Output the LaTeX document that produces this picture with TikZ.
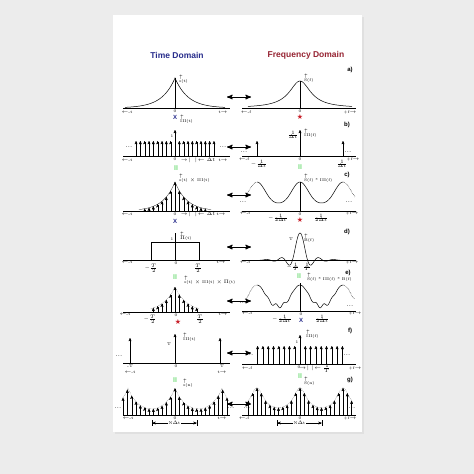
\documentclass[tikz,border=0pt]{standalone}
\usepackage{amsmath}
\usepackage{fontspec}
\setsansfont{Liberation Sans}
\newfontfamily\symfont{DejaVu Sans}
\usetikzlibrary{arrows,positioning}

\definecolor{timeblue}{RGB}{40,45,140}
\definecolor{freqred}{RGB}{150,35,50}
\definecolor{eqgreen}{RGB}{50,205,60}
\definecolor{starred}{RGB}{200,30,40}
\definecolor{backdrop}{RGB}{236,236,236}

\tikzset{
  lbl/.style={font=\fontsize{4}{4.5}\selectfont, inner sep=0pt},
  fnlbl/.style={lbl, align=left, anchor=south west},
  axisline/.style={line width=0.45pt},
  curve/.style={line width=0.5pt},
  spike/.style={->, line width=0.3pt},
  envelope/.style={line width=0.3pt, densely dotted},
  dots/.style={font=\fontsize{5}{5}\selectfont\bfseries, inner sep=0pt},
  tmark/.style={font=\sffamily\bfseries\fontsize{6}{6}\selectfont, text=timeblue, inner sep=0pt},
  fmark/.style={font=\symfont\fontsize{7}{7}\selectfont, text=starred, inner sep=0pt},
  eqmark/.style={font=\sffamily\fontsize{7}{7}\selectfont, text=eqgreen, inner sep=0pt},
  swap/.style={<->, line width=1pt},
  rowtag/.style={font=\sffamily\bfseries\fontsize{6}{6}\selectfont, inner sep=0pt},
  title/.style={font=\sffamily\bfseries\fontsize{8.5}{9}\selectfont}
}

\begin{document}
\begin{tikzpicture}[x=1pt,y=-1pt,>=stealth',
  declare function={
    lor(\u,\w)=1/(1+(\u/\w)*(\u/\w));
    pexp(\u)=exp(-abs(\u)/11)+exp(-abs(\u-47)/11)+exp(-abs(\u+47)/11)+exp(-abs(\u-94)/11)+exp(-abs(\u+94)/11);
    plor(\u)=lor(\u,8.3)+lor(\u-43,8.3)+lor(\u+43,8.3)+lor(\u-86,8.3)+lor(\u+86,8.3);
    hc(\u)=(1+cos(8.3721*\u))/2;
    wc(\u)=hc(\u)*(0.5+0.5*hc(\u));
    we(\u)=5+21*wc(\u)+2*cos(45*\u)*(1-hc(\u));
    snc(\u)=sin(24*\u)/(pi*\u/7.5);
  }]
\useasboundingbox (0,0) rectangle (474,474);
\fill[backdrop] (0,0) rectangle (474,474);
\fill[black!12] (115,17) rectangle (364,434);
\fill[white] (113,15) rectangle (362,432);

\node[title, text=timeblue] (ttitle) at (177,55) {Time Domain};
\node[title, text=freqred] (ftitle) at (306,55) {Frequency Domain};

% swap arrows between the two columns
\foreach \r/\yy in {a/97,b/147,c/195,d/247,e/301,f/353,g/404}{
  \coordinate (\r-swl) at (227,\yy);
  \coordinate (\r-swr) at (251,\yy);
  \draw[swap] (\r-swl) -- (\r-swr);
}

% ---- time domain ----
% a)
\begin{scope}[shift={(175,108)}]
  \draw[axisline] (-52,0) -- (55,0);
  \draw[curve] plot[domain=-50:50,samples=101] ({\x},{-30*exp(-abs(\x)/13)});
  \draw[curve] (0,0) -- (0,-30);
  \node[fnlbl] (ta-fn) at (4,-24) {$\uparrow$\\s(t)};
  \node[lbl] (ta-l) at (-48,4) {$\leftarrow$-t};
  \node[lbl] (ta-0) at (0,3.5) {0};
  \node[lbl] (ta-r) at (48,4) {t$\rightarrow$};
  \node[tmark] (ta-x) at (0,9) {X};
\end{scope}

% b)
\begin{scope}[shift={(175,156)}]
  \draw[axisline] (-52,0) -- (55,0);
  \foreach \k in {-9,...,-1,1,2,...,9}
    \draw[spike] ({\k*4.33},0) -- ({\k*4.33},-15);
  \draw[spike] (0,0) -- (0,-26);
  \node[lbl] (tb-one) at (-3,-20) {1};
  \node[fnlbl] (tb-fn) at (5,-32) {$\uparrow$\\III(t)};
  \node[dots] (tb-dl) at (-46,-9) {...};
  \node[dots] (tb-dr) at (48,-9) {...};
  \node[lbl] (tb-l) at (-48,4) {$\leftarrow$-t};
  \node[lbl] (tb-0) at (0,3.5) {0};
  \node[lbl] (tb-dt) at (23,4) {$\rightarrow\!|\;\;|\!\leftarrow\Delta t$};
  \node[lbl] (tb-r) at (48,4) {t$\rightarrow$};
  \node[eqmark] (tb-eq) at (1,12) {II};
\end{scope}

% c)
\begin{scope}[shift={(175,211)}]
  \draw[axisline] (-52,0) -- (55,0);
  \draw[line width=0.25pt] plot[domain=-36:36,samples=73] ({\x},{-29*exp(-abs(\x)/12)});
  \foreach \k in {-7,...,-1,1,2,...,7}
    \draw[spike] ({\k*4.33},0) -- ({\k*4.33},{-29*exp(-abs(\k*4.33)/12)});
  \draw[spike] (0,0) -- (0,-29);
  \node[fnlbl] (tc-fn) at (4,-28) {$\uparrow$\\s(t) $\times$ III(t)};
  \node[lbl] (tc-l) at (-48,3.5) {$\leftarrow$-t};
  \node[lbl] (tc-0) at (0,3.5) {0};
  \node[lbl] (tc-dt) at (23,3.5) {$\rightarrow\!|\;\;|\!\leftarrow\Delta t$};
  \node[lbl] (tc-r) at (46,3.5) {t$\rightarrow$};
  \node[tmark] (tc-x) at (0,10) {X};
\end{scope}

% d)
\begin{scope}[shift={(175,260)}]
  \draw[axisline] (-52,0) -- (55,0);
  \draw[curve] (-24,0) -- (-24,-18) -- (24,-18) -- (24,0);
  \draw[curve] (0,0) -- (0,-27);
  \node[lbl] (td-one) at (-3,-21) {1};
  \node[fnlbl] (td-fn) at (5,-19) {$\uparrow$\\$\Pi$(t)};
  \node[lbl] (td-l) at (-48,2) {$\leftarrow$-t};
  \node[lbl] (td-a) at (-24,8) {$-\frac{T}{2}$};
  \node[lbl] (td-0) at (1,3.5) {0};
  \node[lbl] (td-b) at (23,8) {$\frac{T}{2}$};
  \node[lbl] (td-r) at (46,2) {t$\rightarrow$};
\end{scope}

% e)
\begin{scope}[shift={(175,312)}]
  \node[eqmark] (te-eq) at (0,-35) {II};
  \node[fnlbl] (te-fn) at (9,-27) {$\uparrow$\\s(t) $\times$ III(t) $\times$ $\Pi$(t)};
  \draw[axisline] (-52,0) -- (55,0);
  \draw[envelope] plot[domain=-24:24,samples=49] ({\x},{-25*exp(-abs(\x)/12)});
  \foreach \k in {-5,...,-1,1,2,...,5}
    \draw[spike] ({\k*4.33},0) -- ({\k*4.33},{-25*exp(-abs(\k*4.33)/12)});
  \draw[spike] (0,0) -- (0,-25);
  \node[lbl] (te-l) at (-50,2) {$\leftarrow$-t};
  \node[lbl] (te-a) at (-25,7) {$-\frac{T}{2}$};
  \node[lbl] (te-0) at (1,3) {0};
  \node[lbl] (te-b) at (25,7) {$\frac{T}{2}$};
  \node[lbl] (te-r) at (48,2) {t$\rightarrow$};
  \node[fmark] (te-s) at (3,10) {★};
\end{scope}

% f)
\begin{scope}[shift={(175,363)}]
  \draw[axisline] (-52,0) -- (55,0);
  \draw[spike] (-45,0) -- (-45,-25);
  \draw[spike] (45,0) -- (45,-25);
  \draw[spike] (0,0) -- (0,-29);
  \node[lbl] (tf-T) at (-6,-19) {T};
  \node[fnlbl] (tf-fn) at (8,-21) {$\uparrow$\\III(t)};
  \node[dots] (tf-dl) at (-56,-7) {...};
  \node[dots] (tf-dr) at (57,-9) {...};
  \node[lbl] (tf-a) at (-45,3.5) {-T};
  \node[lbl] (tf-0) at (1,3.5) {0};
  \node[lbl] (tf-b) at (47,3.5) {T};
  \node[lbl] (tf-l) at (-45,9.5) {$\leftarrow$-t};
  \node[lbl] (tf-r) at (47,9.5) {t$\rightarrow$};
  \node[eqmark] (tf-eq) at (0,17.5) {II};
\end{scope}

% g)
\begin{scope}[shift={(175,415)}]
  \draw[axisline] (-52,0) -- (55,0);
  \draw[envelope] plot[domain=-52:52,samples=105] ({\x},{-26*pexp(\x)});
  \foreach \k in {-12,...,12}
    \draw[spike] ({\k*4.33},0) -- ({\k*4.33},{-26*pexp(\k*4.33)});
  \node[fnlbl] (tg-fn) at (8,-27) {$\uparrow$\\s(n)};
  \node[dots] (tg-dl) at (-57,-7) {...};
  \node[dots] (tg-dr) at (56,-7) {...};
  \node[lbl] (tg-l) at (-47,3) {$\leftarrow$-t};
  \node[lbl] (tg-0) at (0,3) {0};
  \node[lbl] (tg-r) at (47,3) {t$\rightarrow$};
  \coordinate (tg-nl) at (-23,8);
  \coordinate (tg-nr) at (22,8);
  \draw[|<->|, line width=0.3pt] (tg-nl) -- (tg-nr)
    node[lbl, midway, fill=white, inner xsep=1pt] (tg-n) {N$\Delta$t};
\end{scope}

% ---- frequency domain ----
% a)
\begin{scope}[shift={(300,108)}]
  \draw[axisline] (-58,0) -- (56,0);
  \draw[curve] plot[domain=-52:52,samples=105] ({\x},{-27*lor(\x,13)});
  \draw[curve] (0,0) -- (0,-27);
  \node[fnlbl] (fa-fn) at (4,-25) {$\uparrow$\\S(f)};
  \node[lbl] (fa-l) at (-54,4) {$\leftarrow$-f};
  \node[lbl] (fa-0) at (0,3.5) {0};
  \node[lbl] (fa-r) at (50,4) {+f$\rightarrow$};
  \node[fmark] (fa-s) at (0,9) {★};
  \node[rowtag] (fa-tag) at (50,-38) {a)};
\end{scope}

% b)
\begin{scope}[shift={(300,156)}]
  \draw[axisline] (-58,0) -- (56,0);
  \draw[spike] (-43,0) -- (-43,-15);
  \draw[spike] (43,0) -- (43,-15);
  \draw[spike] (0,0) -- (0,-26);
  \node[lbl] (fb-one) at (-7,-21) {$\frac{1}{\Delta t}$};
  \node[fnlbl] (fb-fn) at (4,-18) {$\uparrow$\\III(f)};
  \node[dots] (fb-dl) at (-56,-4) {...};
  \node[dots] (fb-dr) at (48,-4) {...};
  \node[lbl] (fb-l) at (-56,3) {$\leftarrow$-f};
  \node[lbl] (fb-a) at (-41,8) {$-\frac{1}{\Delta t}$};
  \node[lbl] (fb-0) at (0,3.5) {0};
  \node[lbl] (fb-b) at (42,8) {$\frac{1}{\Delta t}$};
  \node[lbl] (fb-r) at (53,3) {+f$\rightarrow$};
  \node[eqmark] (fb-eq) at (0,11) {II};
  \node[rowtag] (fb-tag) at (47,-31) {b)};
\end{scope}

% c)
\begin{scope}[shift={(300,211)}]
  \draw[axisline] (-58,0) -- (56,0);
  \draw[curve] plot[domain=-43:43,samples=87] ({\x},{-(8+21*wc(\x))});
  \draw[curve, densely dotted] plot[domain=-55:-43,samples=13] ({\x},{-(8+21*wc(\x))});
  \draw[curve, densely dotted] plot[domain=43:55,samples=13] ({\x},{-(8+21*wc(\x))});
  \draw[curve] (0,0) -- (0,-29);
  \node[fnlbl] (fc-fn) at (4,-28) {$\uparrow$\\S(f) * III(f)};
  \node[dots] (fc-dl) at (-57,-9) {...};
  \node[dots] (fc-dr) at (49,-9) {...};
  \node[lbl] (fc-l) at (-55,2.5) {$\leftarrow$-f};
  \node[lbl] (fc-a) at (-22,7) {$-\frac{1}{2\Delta t}$};
  \node[lbl] (fc-0) at (0,3) {0};
  \node[lbl] (fc-b) at (21,7) {$\frac{1}{2\Delta t}$};
  \node[lbl] (fc-r) at (52,2.5) {+f$\rightarrow$};
  \node[fmark] (fc-s) at (0,9) {★};
  \node[rowtag] (fc-tag) at (47,-36) {c)};
\end{scope}

% d)
\begin{scope}[shift={(300,260)}]
  \draw[axisline] (-58,0) -- (56,0);
  \draw[curve] plot[domain=-40:40,samples=120] ({\x},{-27*snc(\x)*exp(-(\x/30)*(\x/30))});
  \node[lbl] (fd-T) at (-9,-21) {T};
  \node[fnlbl] (fd-fn) at (4,-17) {$\uparrow$\\B(f)};
  \node[lbl] (fd-l) at (-55,2) {$\leftarrow$-f};
  \node[lbl] (fd-a) at (-7,7) {$-\frac{1}{T}$};
  \node[lbl] (fd-b) at (7,7) {$\frac{1}{T}$};
  \node[lbl] (fd-r) at (52,2) {+f$\rightarrow$};
  \node[rowtag] (fd-tag) at (47,-28) {d)};
\end{scope}

% e)
\begin{scope}[shift={(300,311)}]
  \node[eqmark] (fe-eq) at (-1,-35) {II};
  \node[fnlbl] (fe-fn) at (7,-29) {$\uparrow$\\S(f) * III(f) * B(f)};
  \draw[axisline] (-58,0) -- (56,0);
  \draw[curve] plot[domain=-43:43,samples=130] ({\x},{-we(\x)});
  \draw[curve, densely dotted] plot[domain=-55:-43,samples=15] ({\x},{-we(\x)});
  \draw[curve, densely dotted] plot[domain=43:55,samples=15] ({\x},{-we(\x)});
  \draw[curve] (0,0) -- (0,-28);
  \node[dots] (fe-dl) at (-57,-8) {...};
  \node[dots] (fe-dr) at (50,-5) {...};
  \node[lbl] (fe-l) at (-53,2) {$\leftarrow$-f};
  \node[lbl] (fe-a) at (-18,8) {$-\frac{1}{2\Delta t}$};
  \node[lbl] (fe-0) at (1,3) {0};
  \node[lbl] (fe-b) at (22,8) {$\frac{1}{2\Delta t}$};
  \node[lbl] (fe-r) at (55,2) {+f$\rightarrow$};
  \node[tmark] (fe-x) at (1,9.5) {X};
  \node[rowtag] (fe-tag) at (48,-38) {e)};
\end{scope}

% f)
\begin{scope}[shift={(300,364)}]
  \draw[axisline] (-58,0) -- (56,0);
  \foreach \k in {-8,...,-1,1,2,...,8}
    \draw[spike] ({\k*5.3},0) -- ({\k*5.3},-18);
  \draw[spike] (0,0) -- (0,-29);
  \node[lbl] (ff-one) at (-3,-22) {1};
  \node[fnlbl] (ff-fn) at (6,-25) {$\uparrow$\\III(f)};
  \node[dots] (ff-dl) at (-50,-9) {...};
  \node[dots] (ff-dr) at (47,-9) {...};
  \node[lbl] (ff-l) at (-53,4) {$\leftarrow$-f};
  \node[lbl] (ff-0) at (-1,3) {0};
  \node[lbl] (ff-df) at (15,4.5) {$\rightarrow\!|\;|\!\leftarrow\frac{1}{T}$};
  \node[lbl] (ff-r) at (55,4) {+f$\rightarrow$};
  \node[eqmark] (ff-eq) at (0,12) {II};
  \node[rowtag] (ff-tag) at (50,-33) {f)};
\end{scope}

% g)
\begin{scope}[shift={(300,415)}]
  \draw[axisline] (-58,0) -- (56,0);
  \draw[envelope] plot[domain=-52:52,samples=105] ({\x},{-25*plor(\x)});
  \foreach \k in {-12,...,12}
    \draw[spike] ({\k*4.3},0) -- ({\k*4.3},{-25*plor(\k*4.3)});
  \node[fnlbl] (fg-fn) at (4,-29) {$\uparrow$\\S(n)};
  \node[dots] (fg-dl) at (-53,-7) {...};
  \node[dots] (fg-dr) at (52,-7) {...};
  \node[lbl] (fg-l) at (-56,3) {$\leftarrow$-f};
  \node[lbl] (fg-0) at (0,3) {0};
  \node[lbl] (fg-r) at (50,3) {+f$\rightarrow$};
  \coordinate (fg-nl) at (-23,8);
  \coordinate (fg-nr) at (22,8);
  \draw[|<->|, line width=0.3pt] (fg-nl) -- (fg-nr)
    node[lbl, midway, fill=white, inner xsep=1pt] (fg-n) {N$\Delta$t};
  \node[rowtag] (fg-tag) at (50,-35) {g)};
\end{scope}
\end{tikzpicture}
\end{document}
